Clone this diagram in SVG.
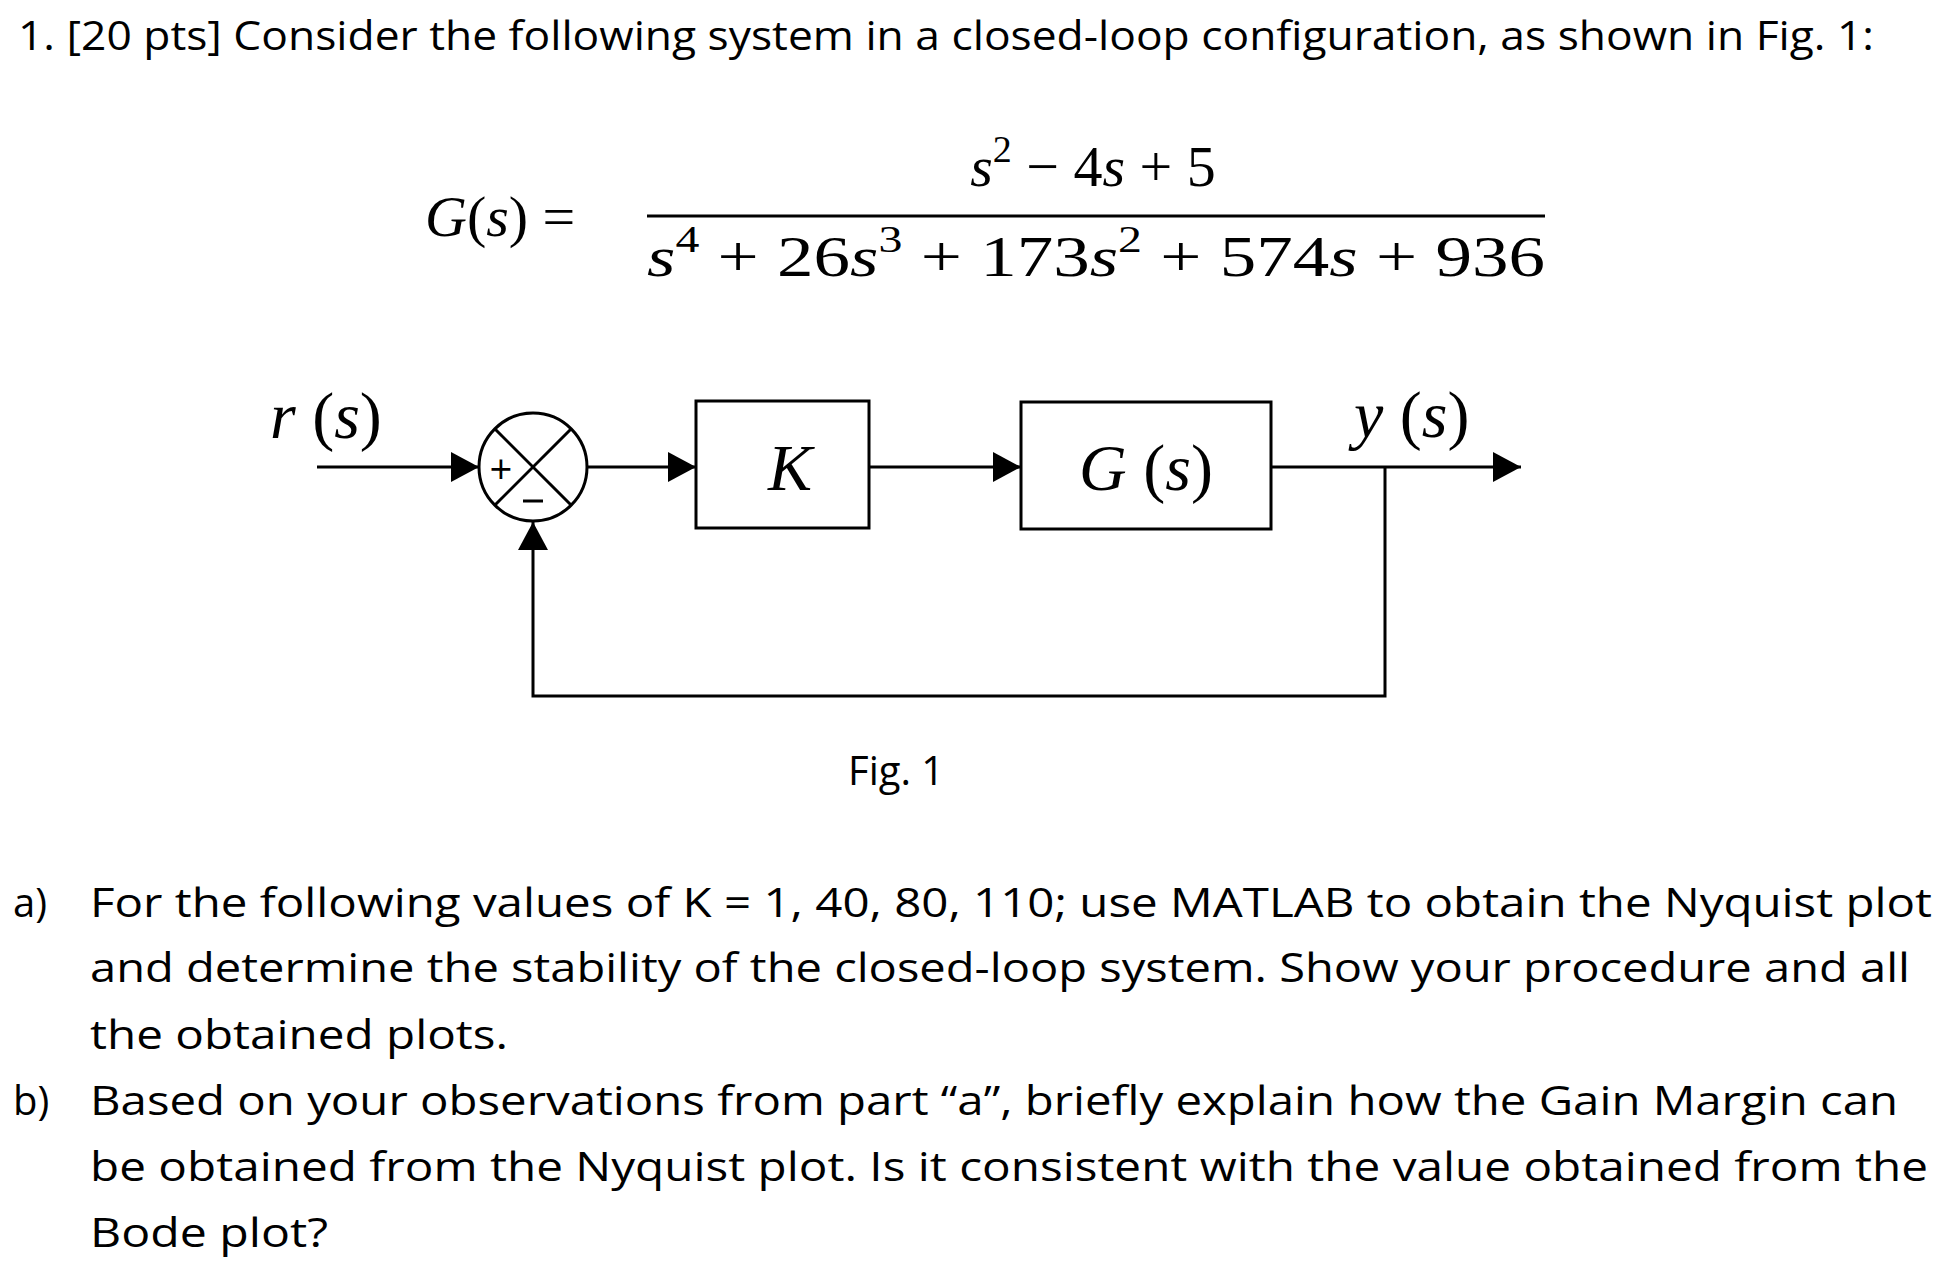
<svg xmlns="http://www.w3.org/2000/svg" width="1959" height="1288" viewBox="0 0 1959 1288">
<style>
.t{font-family:"Open Sans","Liberation Sans",sans-serif;font-size:40px;fill:#000}
.m{font-family:"Liberation Serif",serif;font-style:italic;fill:#000}
.mu{font-family:"Liberation Serif",serif;fill:#000}
.ln{stroke:#000;stroke-width:3;fill:none}
</style>
<defs>
<marker id="a" markerWidth="28" markerHeight="30" refX="28" refY="15" orient="auto" markerUnits="userSpaceOnUse"><path d="M0,0L28,15L0,30z" fill="#000"/></marker></defs>
<rect width="1959" height="1288" fill="#fff"/>
<text class="t" x="18" y="50" textLength="1856" lengthAdjust="spacingAndGlyphs">1.  [20 pts] Consider the following system in a closed-loop configuration, as shown in Fig. 1:</text>
<g id="equation">
<text class="mu" font-size="58" x="425" y="236"><tspan class="m">G</tspan>(<tspan class="m">s</tspan>)  =</text>
<text class="mu" font-size="58" x="1093" y="186" text-anchor="middle"><tspan class="m">s</tspan><tspan font-size="38" dy="-24">2</tspan><tspan dy="24"> − 4</tspan><tspan class="m">s</tspan> + 5</text>
<line x1="647" y1="216" x2="1545" y2="216" stroke="#000" stroke-width="3"/>
<text class="mu" font-size="58" x="647" y="276" textLength="898" lengthAdjust="spacingAndGlyphs"><tspan class="m">s</tspan><tspan font-size="38" dy="-24">4</tspan><tspan dy="24"> + 26</tspan><tspan class="m">s</tspan><tspan font-size="38" dy="-24">3</tspan><tspan dy="24"> + 173</tspan><tspan class="m">s</tspan><tspan font-size="38" dy="-24">2</tspan><tspan dy="24"> + 574</tspan><tspan class="m">s</tspan> + 936</text>
</g>
<g id="connectors">
<line class="ln" x1="317" y1="467" x2="479" y2="467" marker-end="url(#a)"/>
<line class="ln" x1="587" y1="467" x2="696" y2="467" marker-end="url(#a)"/>
<line class="ln" x1="869" y1="467" x2="1021" y2="467" marker-end="url(#a)"/>
<line class="ln" x1="1271" y1="467" x2="1521" y2="467" marker-end="url(#a)"/>
<polyline class="ln" points="1385,467 1385,696 533,696 533,522" marker-end="url(#a)"/>
</g>
<g id="labels">
<text class="mu" font-size="66" x="270" y="438"><tspan class="m">r</tspan> (<tspan class="m">s</tspan>)</text>
<text class="mu" font-size="66" x="1354" y="437"><tspan class="m">y</tspan> (<tspan class="m">s</tspan>)</text>
</g>
<g id="sum">
<circle cx="533" cy="467" r="54" class="ln"/>
<line class="ln" stroke-width="2" x1="495" y1="429" x2="571" y2="505"/>
<line class="ln" stroke-width="2" x1="571" y1="429" x2="495" y2="505"/>
<text class="t" font-size="32" x="501" y="484" text-anchor="middle">+</text>
<line x1="523" y1="501" x2="543" y2="501" stroke="#000" stroke-width="3"/>
</g>
<g id="K">
<rect x="696" y="401" width="173" height="127" class="ln"/>
<text class="m" font-size="66" x="790" y="490" text-anchor="middle">K</text>
</g>
<g id="G">
<rect x="1021" y="402" width="250" height="127" class="ln"/>
<text class="mu" font-size="66" x="1146" y="490" text-anchor="middle"><tspan class="m">G</tspan> (<tspan class="m">s</tspan>)</text>
</g>
<text class="t" x="848" y="785">Fig. 1</text>
<text class="t" x="13" y="917">a)</text>
<text class="t" x="90" y="917" textLength="1842" lengthAdjust="spacingAndGlyphs">For the following values of K = 1, 40, 80, 110; use MATLAB to obtain the Nyquist plot</text>
<text class="t" x="90" y="982" textLength="1820" lengthAdjust="spacingAndGlyphs">and determine the stability of the closed-loop system. Show your procedure and all</text>
<text class="t" x="90" y="1049" textLength="418" lengthAdjust="spacingAndGlyphs">the obtained plots.</text>
<text class="t" x="13" y="1115">b)</text>
<text class="t" x="90" y="1115" textLength="1808" lengthAdjust="spacingAndGlyphs">Based on your observations from part “a”, briefly explain how the Gain Margin can</text>
<text class="t" x="90" y="1181" textLength="1838" lengthAdjust="spacingAndGlyphs">be obtained from the Nyquist plot.  Is it consistent with the value obtained from the</text>
<text class="t" x="90" y="1247" textLength="238" lengthAdjust="spacingAndGlyphs">Bode plot?</text>
</svg>
